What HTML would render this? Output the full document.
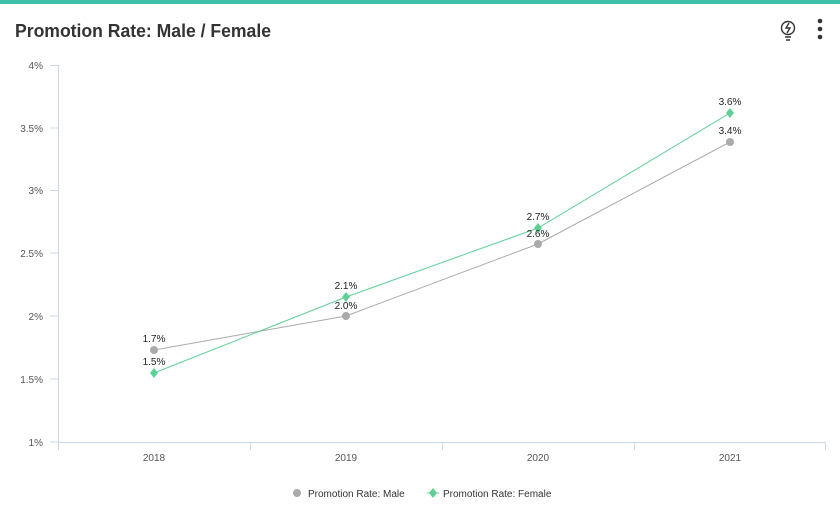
<!DOCTYPE html>
<html><head><style>
body{margin:0;width:840px;height:513px;background:#fff;overflow:hidden;font-family:"Liberation Sans",sans-serif;}
</style></head><body>
<svg width="840" height="513" xmlns="http://www.w3.org/2000/svg" font-family="Liberation Sans, sans-serif">
<rect x="0" y="0" width="840" height="4" fill="#3fbfa8"/>
<text x="15" y="37" font-size="18" font-weight="bold" fill="#333" textLength="256" lengthAdjust="spacingAndGlyphs">Promotion Rate: Male / Female</text>
<g fill="none" stroke="#333" stroke-width="1.4">
<circle cx="788" cy="28" r="6.5"/>
<path d="M785 37h6M786 40h4"/>
<path d="M789 23l-3 5h4l-3 5"/>
</g>
<g fill="#333"><circle cx="820" cy="21" r="2.3"/><circle cx="820" cy="29" r="2.3"/><circle cx="820" cy="37" r="2.3"/></g>
<g font-size="10" fill="#555" text-anchor="end">
<text x="43" y="69">4%</text><text x="43" y="132">3.5%</text><text x="43" y="194">3%</text>
<text x="43" y="257">2.5%</text><text x="43" y="320">2%</text><text x="43" y="383">1.5%</text><text x="43" y="446">1%</text>
</g>
<g stroke="#c8d8e8" stroke-width="1" fill="none">
<path d="M58.5 65V442.5H825"/>
<path d="M50 65.5h8M50 128h8M50 190.5h8M50 253h8M50 316h8M50 379h8M50 442h8"/>
<path d="M58.5 442v8M250.5 442v8M442.5 442v8M634.5 442v8M825.5 442v8"/>
</g>
<g font-size="10" fill="#555" text-anchor="middle">
<text x="154" y="461">2018</text><text x="346" y="461">2019</text><text x="538" y="461">2020</text><text x="730" y="461">2021</text>
</g>
<polyline points="154,350 346,316 538,244 730,142" fill="none" stroke="#aaa" stroke-width="1"/>
<polyline points="154,373 346,297 538,228 730,113" fill="none" stroke="#5fcf95" stroke-width="1"/>
<g fill="#aaa"><circle cx="154" cy="350" r="4"/><circle cx="346" cy="316" r="4"/><circle cx="538" cy="244" r="4"/><circle cx="730" cy="142" r="4"/></g>
<g fill="#5fcf95">
<path d="M154 368l4 5-4 5-4-5z"/><path d="M346 292l4 5-4 5-4-5z"/><path d="M538 223l4 5-4 5-4-5z"/><path d="M730 108l4 5-4 5-4-5z"/>
</g>
<g font-size="10" fill="#222" text-anchor="middle">
<text x="154" y="342">1.7%</text><text x="154" y="365">1.5%</text>
<text x="346" y="289">2.1%</text><text x="346" y="309">2.0%</text>
<text x="538" y="220">2.7%</text><text x="538" y="237">2.6%</text>
<text x="730" y="105">3.6%</text><text x="730" y="134">3.4%</text>
</g>
<circle cx="297" cy="493" r="4" fill="#aaa"/>
<text x="308" y="497" font-size="10" fill="#333">Promotion Rate: Male</text>
<path d="M433 488l4 5-4 5-4-5z" fill="#5fcf95"/><path d="M427 493h12" stroke="#5fcf95"/>
<text x="443" y="497" font-size="10" fill="#333">Promotion Rate: Female</text>
</svg>
</body></html>
